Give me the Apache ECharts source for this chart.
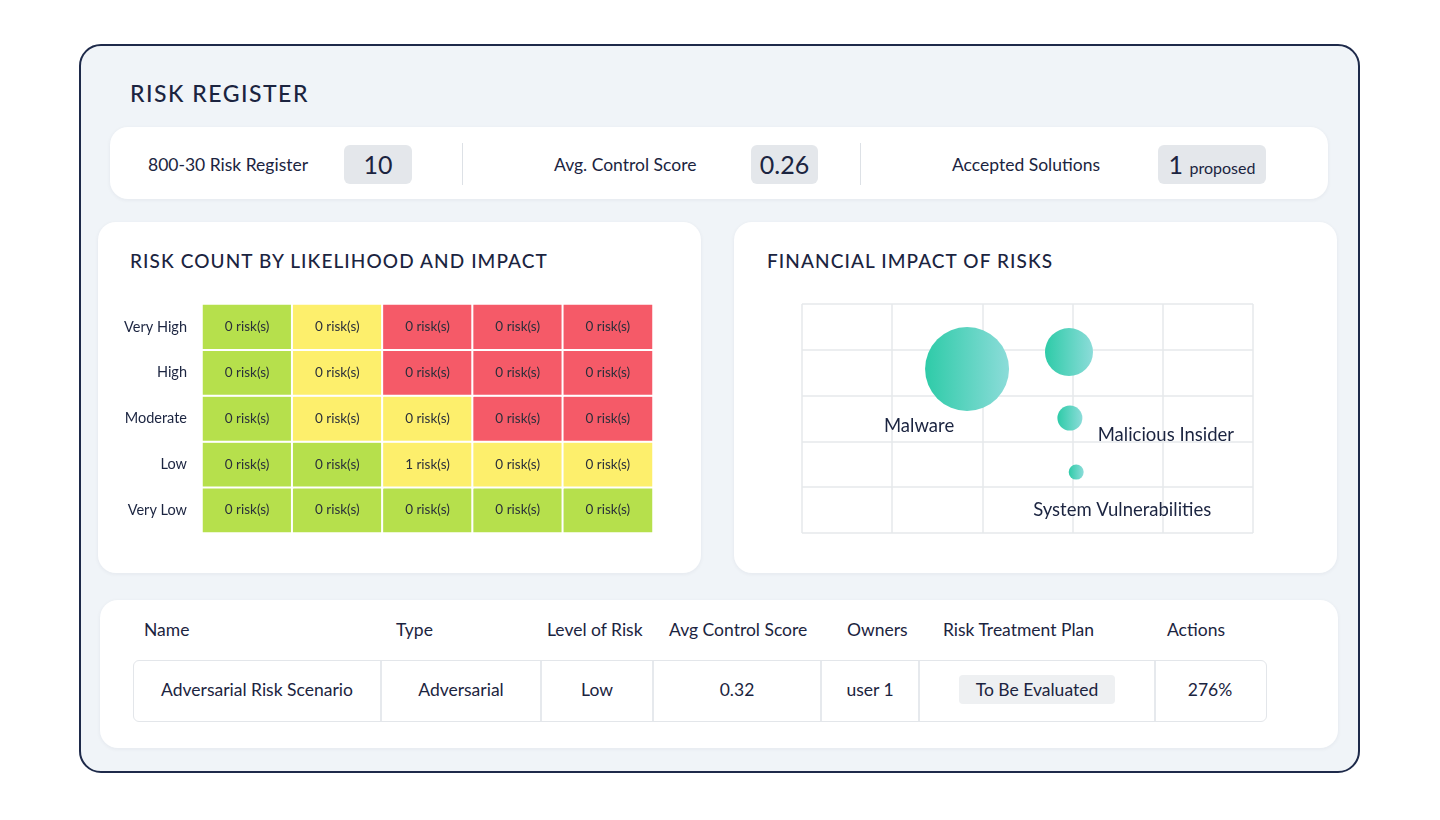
<!DOCTYPE html>
<html>
<head>
<meta charset="utf-8">
<title>Risk Register</title>
<script src="https://cdn.jsdelivr.net/npm/echarts@6/dist/echarts.min.js"></script>
<style>
  body { margin:0; width:1440px; height:820px; background:#fff; font-family:Lato, "Open Sans", sans-serif; color:#1b2440; position:relative; overflow:hidden; }
  .frame { position:absolute; left:79px; top:44px; width:1277px; height:725px; border:2px solid #1e2a4a; border-radius:22px; background:#f0f4f8; }
  .card { position:absolute; background:#fff; border-radius:18px; box-shadow:0 1px 4px rgba(30,40,70,0.06); }
  .h { position:absolute; font-size:19px; letter-spacing:1.1px; font-weight:500; }
  .stat { position:absolute; top:154px; font-size:17.5px; }
  .badge { position:absolute; top:145px; height:39px; background:#e4e7eb; border-radius:6px; font-size:25px; line-height:39px; text-align:center; }
  .div { position:absolute; top:143px; width:1px; height:42px; background:#dde1e6; }
  .th { position:absolute; top:619px; font-size:17.5px; }
  .row { position:absolute; left:133px; top:660px; width:1132px; height:60px; border:1px solid #e3e6ea; border-radius:6px; }
  .cell { position:absolute; top:659px; height:62px; line-height:62px; font-size:17.5px; text-align:center; }
  .vl { position:absolute; top:661px; width:2px; height:60px; background:#e6e9ed; }
</style>
</head>
<body>
<div class="frame"></div>
<div class="h" style="left:130px;top:79px;font-size:23px;letter-spacing:1.5px;">RISK REGISTER</div>

<div class="card" style="left:110px;top:127px;width:1218px;height:72px;"></div>
<div class="stat" style="left:148px;">800-30 Risk Register</div>
<div class="badge" style="left:344px;width:68px;">10</div>
<div class="div" style="left:462px;"></div>
<div class="stat" style="left:554px;">Avg. Control Score</div>
<div class="badge" style="left:751px;width:67px;">0.26</div>
<div class="div" style="left:860px;"></div>
<div class="stat" style="left:952px;">Accepted Solutions</div>
<div class="badge" style="left:1158px;width:108px;">1 <span style="font-size:16px;">proposed</span></div>

<div class="card" style="left:98px;top:222px;width:603px;height:351px;"></div>
<div class="h" style="left:130px;top:249px;">RISK COUNT BY LIKELIHOOD AND IMPACT</div>
<div id="heat" style="position:absolute;left:98px;top:280px;width:603px;height:280px;"></div>

<div class="card" style="left:734px;top:222px;width:603px;height:351px;"></div>
<div class="h" style="left:767px;top:249px;">FINANCIAL IMPACT OF RISKS</div>
<div id="bubble" style="position:absolute;left:734px;top:280px;width:603px;height:280px;"></div>

<div class="card" style="left:100px;top:600px;width:1238px;height:148px;"></div>
<div class="th" style="left:144px;">Name</div>
<div class="th" style="left:396px;">Type</div>
<div class="th" style="left:547px;">Level of Risk</div>
<div class="th" style="left:669px;">Avg Control Score</div>
<div class="th" style="left:847px;">Owners</div>
<div class="th" style="left:943px;">Risk Treatment Plan</div>
<div class="th" style="left:1167px;">Actions</div>
<div class="row"></div>
<div class="vl" style="left:380px;"></div>
<div class="vl" style="left:540px;"></div>
<div class="vl" style="left:652px;"></div>
<div class="vl" style="left:820px;"></div>
<div class="vl" style="left:918px;"></div>
<div class="vl" style="left:1154px;"></div>
<div class="cell" style="left:133px;width:248px;">Adversarial Risk Scenario</div>
<div class="cell" style="left:382px;width:158px;">Adversarial</div>
<div class="cell" style="left:542px;width:110px;">Low</div>
<div class="cell" style="left:654px;width:166px;">0.32</div>
<div class="cell" style="left:822px;width:96px;">user 1</div>
<div class="cell" style="left:920px;width:234px;"><span style="background:#eef0f2;border-radius:4px;padding:4px 17px;">To Be Evaluated</span></div>
<div class="cell" style="left:1156px;width:108px;">276%</div>

<script>
var likelihood = ['Very Low', 'Low', 'Moderate', 'High', 'Very High'];
var impactCols = ['1', '2', '3', '4', '5'];
// level per cell: 0 green, 1 yellow, 2 red ; rows from Very Low up
var levels = [
  [0, 0, 0, 0, 0],
  [0, 0, 1, 1, 1],
  [0, 1, 1, 2, 2],
  [0, 1, 2, 2, 2],
  [0, 1, 2, 2, 2]
];
var counts = [
  [0, 0, 0, 0, 0],
  [0, 0, 1, 0, 0],
  [0, 0, 0, 0, 0],
  [0, 0, 0, 0, 0],
  [0, 0, 0, 0, 0]
];
var riskNames = ['Malware', '', 'Malicious Insider', 'System Vulnerabilities'];
var riskX = [1.83, 2.96, 2.97, 3.04];
var riskY = [3.58, 3.95, 2.51, 1.33];
var riskSize = [84, 48, 25, 15];

var heatData = [];
for (var r = 0; r < 5; r++) for (var c = 0; c < 5; c++) heatData.push([c, r, levels[r][c], counts[r][c]]);

var heat = echarts.init(document.getElementById('heat'));
heat.setOption({
  grid: { left: 104, top: 24, width: 451, height: 229 },
  xAxis: { type: 'category', data: impactCols, show: false },
  yAxis: { type: 'category', data: likelihood, axisLine: { show: false }, axisTick: { show: false },
    axisLabel: { color: '#1b2440', fontSize: 14.5, fontFamily: 'Lato', margin: 15 } },
  visualMap: { show: false, type: 'piecewise', dimension: 2,
    pieces: [{ value: 0, color: '#b6e04c' }, { value: 1, color: '#fdef6c' }, { value: 2, color: '#f55a68' }] },
  series: [{
    type: 'heatmap', data: heatData,
    itemStyle: { borderColor: '#fff', borderWidth: 2 },
    label: { show: true, fontSize: 13.5, fontFamily: 'Lato', color: '#2a2f3a',
      formatter: function (p) { return p.data[3] + ' risk(s)'; } }
  }]
});

var labelPos = [
  { position: 'bottom', offset: [-48, 0] },
  { show: false },
  { position: 'bottom', offset: [96, -10] },
  { position: 'bottom', offset: [46, 16] }
];
var bubbleData = riskNames.map(function (n, i) {
  return { name: n, value: [riskX[i], riskY[i]], symbolSize: riskSize[i], label: labelPos[i] };
});

var bubble = echarts.init(document.getElementById('bubble'));
bubble.setOption({
  grid: { left: 68, top: 24, width: 451, height: 229 },
  xAxis: { min: 0, max: 5, interval: 1, axisLine: { show: false }, axisTick: { show: false }, axisLabel: { show: false },
    splitLine: { show: true, lineStyle: { color: '#e6e8eb', width: 1.5 } } },
  yAxis: { min: 0, max: 5, interval: 1, axisLine: { show: false }, axisTick: { show: false }, axisLabel: { show: false },
    splitLine: { show: true, lineStyle: { color: '#e6e8eb', width: 1.5 } } },
  series: [{
    type: 'scatter', data: bubbleData,
    itemStyle: { opacity: 1, color: new echarts.graphic.LinearGradient(0, 0, 1, 0, [
      { offset: 0, color: '#2ecba8' }, { offset: 1, color: '#8cdcd9' }]) },
    label: { show: true, formatter: '{b}', color: '#1b2440', fontSize: 18.5, fontFamily: 'Lato' }
  }]
});
</script>
</body>
</html>
